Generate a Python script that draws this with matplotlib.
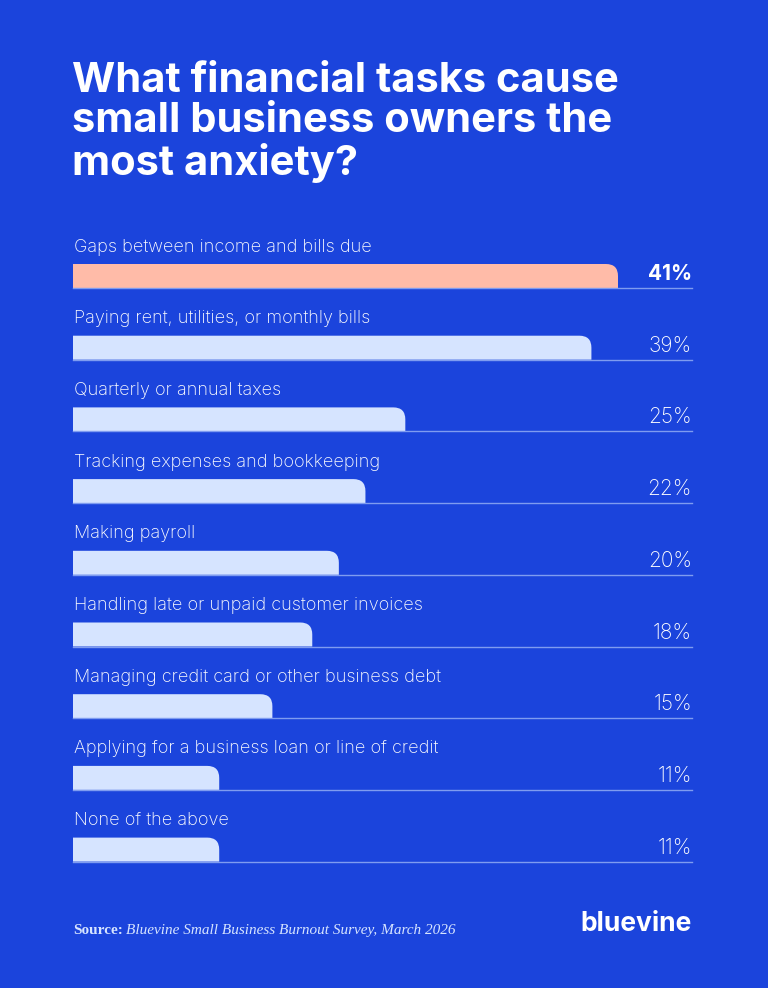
import matplotlib.pyplot as plt
from matplotlib.path import Path
from matplotlib.patches import PathPatch

categories = [
    'Gaps between income and bills due',
    'Paying rent, utilities, or monthly bills',
    'Quarterly or annual taxes',
    'Tracking expenses and bookkeeping',
    'Making payroll',
    'Handling late or unpaid customer invoices',
    'Managing credit card or other business debt',
    'Applying for a business loan or line of credit',
    'None of the above',
]
values = [41, 39, 25, 22, 20, 18, 15, 11, 11]
value_labels = ['41%', '39%', '25%', '22%', '20%', '18%', '15%', '11%', '11%']

BG = '#1b44dc'
HIGHLIGHT = '#ffbba8'
BAR = '#d6e4ff'
LINE = '#7f9cf0'

plt.rcParams['font.family'] = ['Inter', 'DejaVu Sans']

fig = plt.figure(figsize=(7.68, 9.88), dpi=100)
fig.patch.set_facecolor(BG)
ax = fig.add_axes([0, 0, 1, 1])
ax.set_xlim(0, 768)
ax.set_ylim(988, 0)
ax.axis('off')

x0, x1 = 73, 692
px_per_pct = 545 / 41.0
bar_h, radius = 24, 12
row0, row_step = 288, 71.7


def bar_path(left, bottom, w, h, r):
    top = bottom - h
    r = min(r, w)
    verts = [(left, bottom), (left, top), (left + w - r, top),
             (left + w, top), (left + w, top + r), (left + w, bottom), (left, bottom)]
    codes = [Path.MOVETO, Path.LINETO, Path.LINETO,
             Path.CURVE3, Path.CURVE3, Path.LINETO, Path.CLOSEPOLY]
    return Path(verts, codes)


ax.text(72, 62, 'What financial tasks cause\nsmall business owners the\nmost anxiety?',
        color='white', fontsize=30, fontweight='bold', va='top', ha='left',
        linespacing=1.08)

for i, (cat, v, lab) in enumerate(zip(categories, values, value_labels)):
    yb = row0 + i * row_step
    w = v * px_per_pct
    ax.add_patch(PathPatch(bar_path(x0, yb, w, bar_h, radius),
                           facecolor=HIGHLIGHT if i == 0 else BAR, edgecolor='none'))
    ax.plot([x0, x1], [yb, yb], color=LINE, lw=1)
    ax.text(74, yb - 41, cat, color='white', fontsize=13, fontweight='light',
            va='center', ha='left')
    ax.text(x1, yb - 14, lab, color='white', fontsize=15, va='center', ha='right',
            fontweight='bold' if i == 0 else 'light')

ax.text(73, 930, 'Source:', color='#d6e4ff', fontsize=11, fontweight='bold',
        family='Liberation Serif', va='center', ha='left')
ax.text(126, 930, 'Bluevine Small Business Burnout Survey, March 2026', color='#d6e4ff',
        fontsize=11, style='italic', family='Liberation Serif', va='center', ha='left')
ax.text(692, 924, 'bluevine', color='white', fontsize=19, fontweight='bold',
        va='center', ha='right')

fig.savefig('out.png', dpi=100, facecolor=BG)
